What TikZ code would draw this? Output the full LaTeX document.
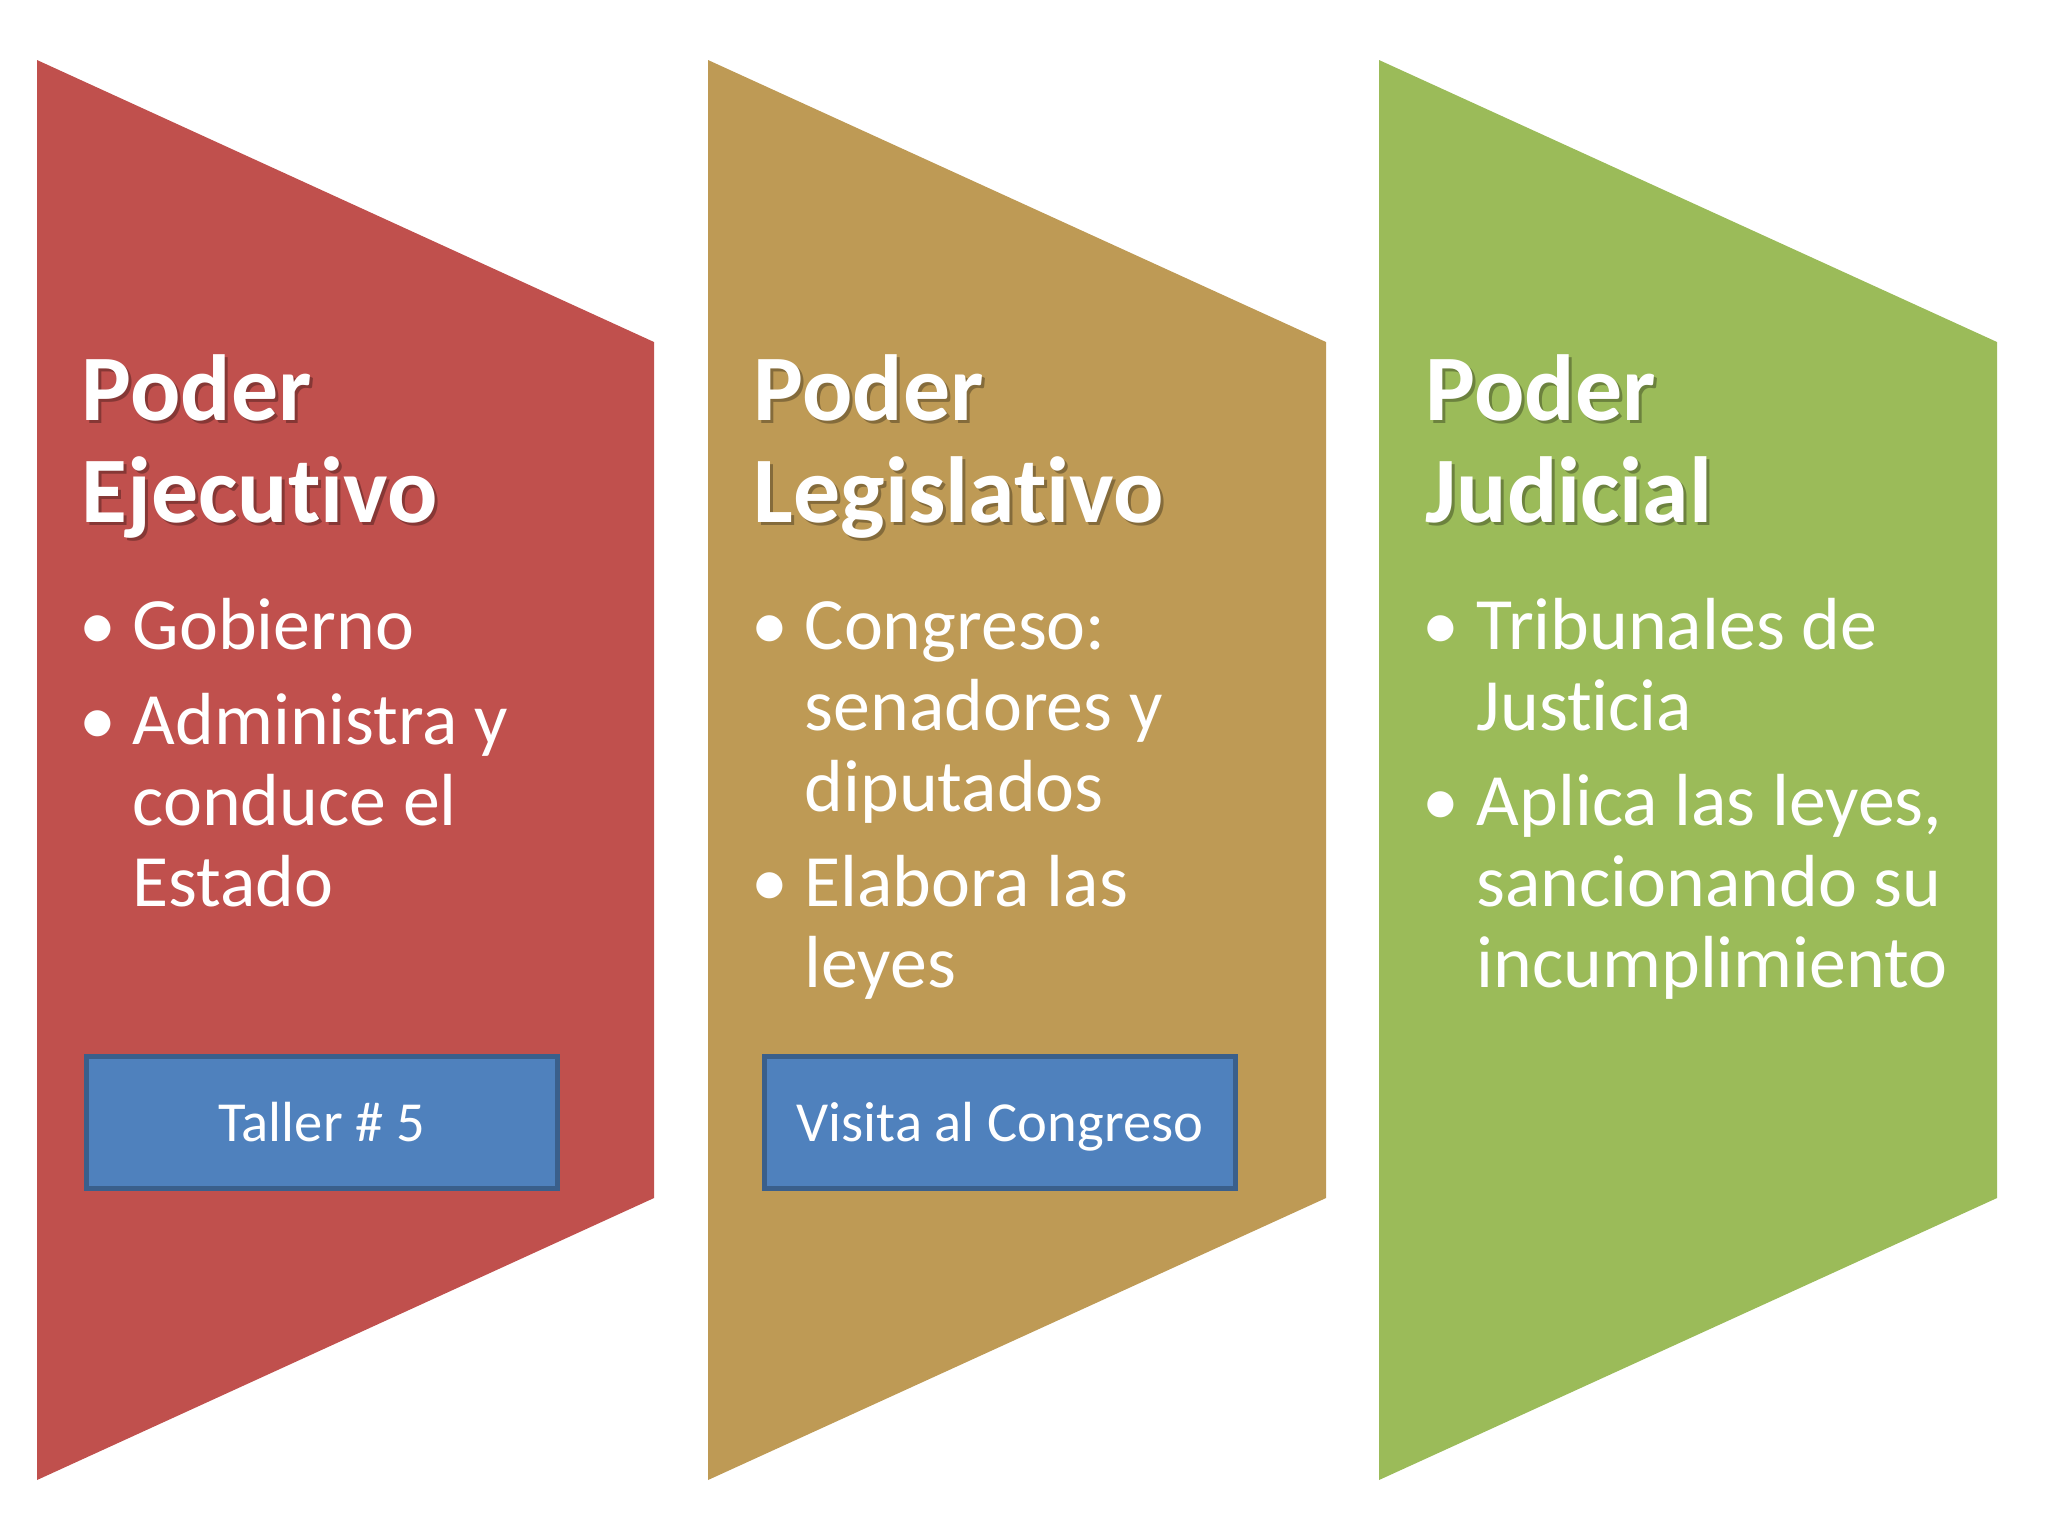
\documentclass[tikz,border=0pt]{standalone}
\usepackage{fontspec}
\setmainfont{Carlito}[Ligatures=NoCommon]

\definecolor{ejered}{HTML}{C0504D}
\definecolor{legtan}{HTML}{BE9A55}
\definecolor{judgreen}{HTML}{9BBB59}
\definecolor{btnblue}{HTML}{4F81BD}
\definecolor{btnedge}{HTML}{3A5F8B}

\tikzset{
  title/.style={anchor=base west, inner sep=0pt, text=white,
    font=\fontsize{26.7}{30}\selectfont\bfseries},
  titleshade/.style={title, text=black, opacity=0.3},
  item/.style={anchor=base west, inner sep=0pt, text=white,
    font=\fontsize{21}{24}\selectfont},
  dot/.style={item, anchor=base},
  button/.style={draw=btnedge, line width=0.5mm, fill=btnblue, text=white,
    minimum width=47.1mm, minimum height=13.2mm, inner sep=0pt,
    text height=1.17em, text depth=0.05em,
    font=\fontsize{16.1}{19}\selectfont}
}

\begin{document}
\begin{tikzpicture}[x=0.1mm,y=-0.1mm]
  \useasboundingbox (0,0) rectangle (2048,1536);

  % chevrons
  \fill[ejered] (37,60) -- (654,342) -- (654,1198) -- (37,1480) -- cycle;
  \fill[legtan] (708,60) -- (1326,342) -- (1326,1198) -- (708,1480) -- cycle;
  \fill[judgreen] (1379,60) -- (1997,342) -- (1997,1198) -- (1379,1480) -- cycle;

  % titles (with soft shadow)
  \node[titleshade] (ejeS1) at (84,423) {Poder};
  \node[titleshade] (ejeS2) at (84,525) {Ejecutivo};
  \node[title] (eje1) at (81,420) {Poder};
  \node[title] (eje2) at (81,522) {Ejecutivo};

  \node[titleshade] (legS1) at (756,423) {Poder};
  \node[titleshade] (legS2) at (756,525) {Legislativo};
  \node[title] (leg1) at (753,420) {Poder};
  \node[title] (leg2) at (753,522) {Legislativo};

  \node[titleshade] (judS1) at (1428,423) {Poder};
  \node[titleshade] (judS2) at (1428,525) {Judicial};
  \node[title] (jud1) at (1425,420) {Poder};
  \node[title] (jud2) at (1425,522) {Judicial};

  % Ejecutivo items
  \node[dot] (ejeD1) at (98,649) {\textbullet};
  \node[item] (ejeA) at (132,649) {Gobierno};
  \node[dot] (ejeD2) at (98,744) {\textbullet};
  \node[item] (ejeB1) at (132,744) {Administra y};
  \node[item] (ejeB2) at (132,825) {conduce el};
  \node[item] (ejeB3) at (132,906) {Estado};

  % Legislativo items
  \node[dot] (legD1) at (770,649) {\textbullet};
  \node[item] (legA1) at (804,649) {Congreso:};
  \node[item] (legA2) at (804,730) {senadores y};
  \node[item] (legA3) at (804,811) {diputados};
  \node[dot] (legD2) at (770,906) {\textbullet};
  \node[item] (legB1) at (804,906) {Elabora las};
  \node[item] (legB2) at (804,987) {leyes};

  % Judicial items
  \node[dot] (judD1) at (1441,649) {\textbullet};
  \node[item] (judA1) at (1476,649) {Tribunales de};
  \node[item] (judA2) at (1476,730) {Justicia};
  \node[dot] (judD2) at (1441,825) {\textbullet};
  \node[item] (judB1) at (1476,825) {Aplica las leyes,};
  \node[item] (judB2) at (1476,906) {sancionando su};
  \node[item] (judB3) at (1476,987) {incumplimiento};

  % buttons
  \node[button] (taller) at (322,1122) {Taller \# 5};
  \node[button] (visita) at (1000,1122) {Visita al Congreso};
\end{tikzpicture}
\end{document}
